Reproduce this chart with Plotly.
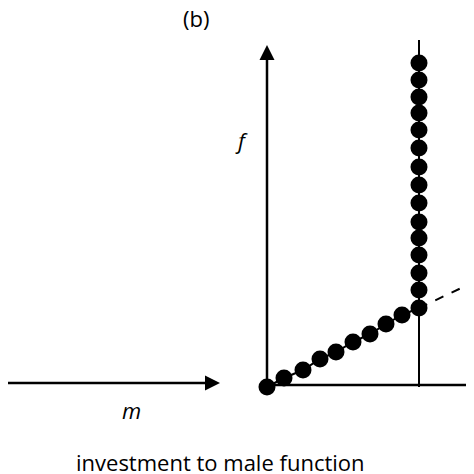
import plotly.graph_objects as go

# point positions (pixel-like units, y grows downward)
diag_x = [267, 284, 303, 320, 336, 353, 370, 386, 402, 419]
diag_y = [387, 378, 370, 359, 352, 342, 334, 324, 315, 308]
vert_x = [419] * 14
vert_y = [290, 273, 255, 238, 222, 203, 185, 167, 148, 130, 113, 97, 80, 63]

fig = go.Figure()
fig.add_trace(go.Scatter(x=diag_x, y=diag_y, mode='lines', line=dict(color='black', width=2)))
fig.add_trace(go.Scatter(x=[419, 474], y=[308, 282], mode='lines',
                         line=dict(color='black', width=2, dash='dash')))
fig.add_trace(go.Scatter(x=[419, 419], y=[40, 387], mode='lines', line=dict(color='black', width=2)))
fig.add_trace(go.Scatter(x=[267, 480], y=[385, 385], mode='lines', line=dict(color='black', width=2.5)))
fig.add_trace(go.Scatter(x=diag_x + vert_x, y=diag_y + vert_y, mode='markers',
                         marker=dict(color='black', size=17)))

# axis arrows
fig.add_annotation(x=267, y=45, ax=267, ay=385, xref='x', yref='y', axref='x', ayref='y',
                   showarrow=True, arrowhead=2, arrowsize=1.2, arrowwidth=2.5, arrowcolor='black', text='')
fig.add_annotation(x=220, y=383, ax=-10, ay=383, xref='x', yref='y', axref='x', ayref='y',
                   showarrow=True, arrowhead=2, arrowsize=1.2, arrowwidth=2.5, arrowcolor='black', text='')

labels = [('(b)', 196, 18), ('<i>f</i>', 241, 140), ('<i>m</i>', 131, 410),
          ('l', 468, 302), ('investment to male function', 220, 462)]
for t, x, y in labels:
    fig.add_annotation(x=x, y=y, text=t, showarrow=False, xref='x', yref='y',
                       font=dict(family='Open Sans', size=22, color='black'))

fig.update_layout(width=474, height=474, margin=dict(l=0, r=0, t=0, b=0),
                  plot_bgcolor='white', paper_bgcolor='white', showlegend=False)
# page body adds an 8px offset, so shift the ranges to compensate
fig.update_xaxes(range=[8, 482], visible=False)
fig.update_yaxes(range=[482, 8], visible=False)
fig.write_html("out.html")
